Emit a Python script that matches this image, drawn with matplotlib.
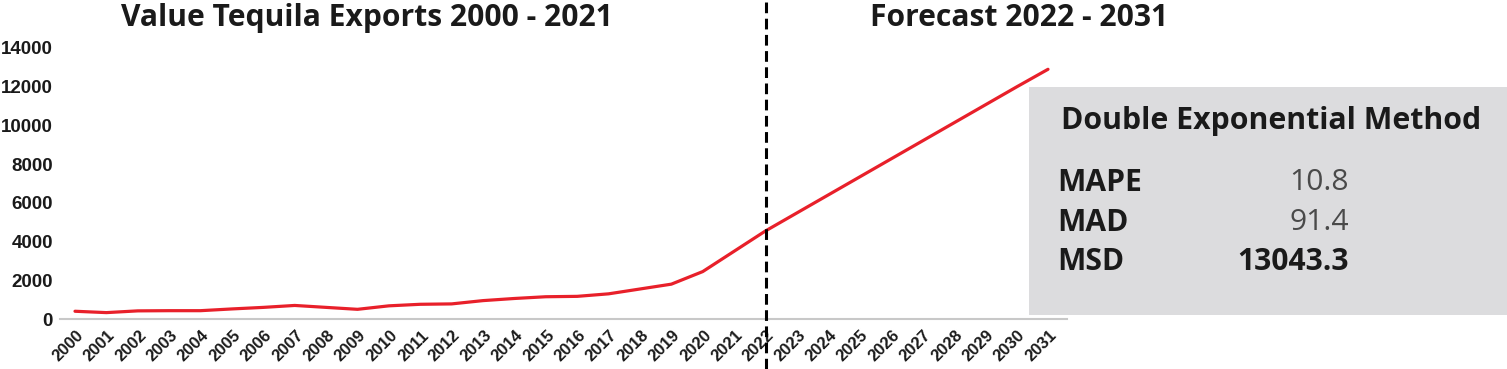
import matplotlib
matplotlib.use("Agg")
import matplotlib.pyplot as plt
import matplotlib.transforms as mtransforms
from matplotlib.patches import Rectangle

# values
years = list(range(2000, 2032))
exports = [400, 330, 420, 430, 430, 520, 600, 700, 600, 500,
           680, 760, 780, 950, 1060, 1150, 1170, 1300, 1550, 1800,
           2450, 3500, 4550, 5480, 6410, 7340, 8270, 9200, 10130, 11060,
           11990, 12900]
split_year = 2022
yticks = [0, 2000, 4000, 6000, 8000, 10000, 12000, 14000]
metric_names = ["MAPE", "MAD", "MSD"]
metric_values = ["10.8", "91.4", "13043.3"]

W, H = 1507, 369
fig = plt.figure(figsize=(W / 100, H / 100), dpi=100)

# axes box in pixel terms
x0, x1, y0, y1 = 60, 1067, 319, 48
ax = fig.add_axes([x0 / W, 1 - y0 / H, (x1 - x0) / W, (y0 - y1) / H])

first_px, last_px = 75, 1048
px_per_year = (last_px - first_px) / 31
ax.set_xlim(2000 - (first_px - x0) / px_per_year,
            2000 + (x1 - first_px) / px_per_year)
ax.set_ylim(0, 14000)

ax.plot(years, exports, color="#e8202a", lw=2.3, solid_capstyle="round")

# dashed separator running over the full figure height
ax.axvline(split_year, ymin=-(H - y0) / (y0 - y1), ymax=y0 / (y0 - y1),
           color="black", lw=2.2, ls=(0, (3.5, 1.8)), clip_on=False, zorder=5)

for side in ["top", "right", "left"]:
    ax.spines[side].set_visible(False)
ax.spines["bottom"].set_color("#c8c8c8")
ax.spines["bottom"].set_linewidth(1.5)
ax.tick_params(length=0)

ax.set_yticks(yticks)
ax.set_yticklabels([str(v) for v in yticks], family="Liberation Sans",
                   fontweight="bold", fontsize=13.5, color="#1a1a1a")
ax.tick_params(axis="y", pad=5)
ax.set_xticks(years)
ax.set_xticklabels([str(y) for y in years], family="Liberation Sans",
                   fontweight="bold", fontsize=12, color="#1a1a1a",
                   rotation=45, ha="right", va="center",
                   rotation_mode="anchor")
ax.tick_params(axis="x", pad=10)
shift = mtransforms.ScaledTranslation(6 / 100, 0, fig.dpi_scale_trans)
for lab in ax.get_xticklabels():
    lab.set_transform(lab.get_transform() + shift)

title_kw = dict(family="Open Sans", fontweight="bold", fontsize=21.6,
                color="#1a1a1a", ha="center", va="center")
fig.text(367 / W, 1 - 18 / H, "Value Tequila Exports 2000 - 2021", **title_kw)
fig.text(1019 / W, 1 - 18 / H, "Forecast 2022 - 2031", **title_kw)

# gray stats panel
fig.patches.append(Rectangle((1029 / W, 1 - 315 / H), (W - 1029) / W,
                             (315 - 87) / H, transform=fig.transFigure,
                             facecolor="#dcdcde", edgecolor="none", zorder=10))
fig.text(1271 / W, 1 - 121 / H, "Double Exponential Method",
         family="Open Sans", fontweight="bold", fontsize=21.8, color="#1a1a1a",
         ha="center", va="center", zorder=11)
row_y = [183, 223, 262]
for name, val, yy in zip(metric_names, metric_values, row_y):
    fig.text(1057 / W, 1 - yy / H, name, family="Open Sans",
             fontweight="bold", fontsize=21.6, color="#1a1a1a",
             ha="left", va="center", zorder=11)
    bold = name == "MSD"
    fig.text(1349 / W, 1 - yy / H, val, family="Open Sans",
             fontweight="bold" if bold else "normal", fontsize=21.6,
             color="#1a1a1a" if bold else "#4a4a4a",
             ha="right", va="center", zorder=11)

fig.savefig("out.png", dpi=100)
